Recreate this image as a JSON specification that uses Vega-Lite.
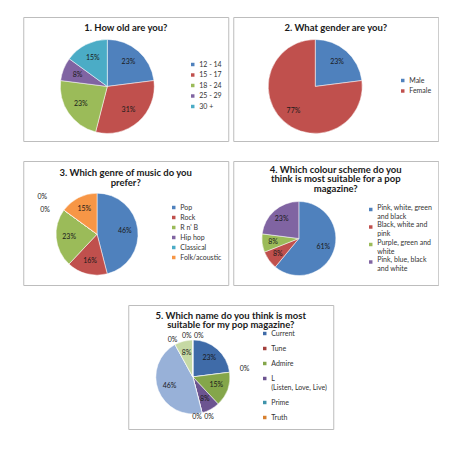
{
  "$schema": "https://vega.github.io/schema/vega-lite/v6.json",
  "background": "white",
  "padding": {"left": 22, "top": 16, "right": 0, "bottom": 0},
  "config": {
    "font": "Lato",
    "view": {"stroke": "#bdbdbd", "strokeWidth": 1},
    "title": {"fontSize": 9.5, "fontWeight": "bold", "color": "#1a1a1a", "baseline": "top", "frame": "group", "anchor": "middle", "lineHeight": 9.5},
    "legend": {"orient": "none", "symbolType": "square", "symbolSize": 12, "symbolStrokeWidth": 0, "labelFontSize": 7, "labelColor": "#333", "labelOffset": 3, "padding": 0, "title": null}
  },
  "spacing": 18,
  "center": true,
  "resolve": {"scale": {"color": "independent", "x": "independent", "y": "independent", "theta": "independent"}, "legend": {"color": "independent"}},
  "vconcat": [
    {
      "hconcat": [
        {
          "width": 205, "height": 124,
          "title": {"text": "1. How old are you?", "offset": -15},
          "data": {"values": [
            {"i": 1, "cat": "12 - 14", "pct": 0.23},
            {"i": 2, "cat": "15 - 17", "pct": 0.31},
            {"i": 3, "cat": "18 - 24", "pct": 0.23},
            {"i": 4, "cat": "25 - 29", "pct": 0.08},
            {"i": 5, "cat": "30 +", "pct": 0.15}
          ]},
          "encoding": {
            "theta": {"field": "pct", "type": "quantitative", "stack": true},
            "order": {"field": "i", "type": "quantitative"},
            "x": {"datum": 0.41, "type": "quantitative", "scale": {"domain": [0, 1]}, "axis": null},
            "y": {"datum": 0.44, "type": "quantitative", "scale": {"domain": [0, 1]}, "axis": null}
          },
          "layer": [
            {"mark": {"type": "arc", "outerRadius": 47, "stroke": "white", "strokeWidth": 0.5},
             "encoding": {"color": {"field": "cat", "type": "nominal", "sort": null,
               "scale": {"domain": ["12 - 14", "15 - 17", "18 - 24", "25 - 29", "30 +"], "range": ["#4F81BD", "#C0504D", "#9BBB59", "#8064A2", "#4BACC6"]},
               "legend": {"legendX": 166, "legendY": 44, "rowPadding": 2.5}}}},
            {"mark": {"type": "text", "radius": 32, "fontSize": 7, "color": "#1a1a1a", "clip": true},
             "encoding": {"detail": {"field": "cat"}, "text": {"field": "pct", "type": "quantitative", "format": ".0%"}}}
          ]
        },
        {
          "width": 205, "height": 124,
          "title": {"text": "2. What gender are you?", "offset": -15},
          "data": {"values": [
            {"i": 1, "cat": "Male", "pct": 0.23},
            {"i": 2, "cat": "Female", "pct": 0.77}
          ]},
          "encoding": {
            "theta": {"field": "pct", "type": "quantitative", "stack": true},
            "order": {"field": "i", "type": "quantitative"},
            "x": {"datum": 0.40, "type": "quantitative", "scale": {"domain": [0, 1]}, "axis": null},
            "y": {"datum": 0.44, "type": "quantitative", "scale": {"domain": [0, 1]}, "axis": null}
          },
          "layer": [
            {"mark": {"type": "arc", "outerRadius": 47, "stroke": "white", "strokeWidth": 0.5},
             "encoding": {"color": {"field": "cat", "type": "nominal", "sort": null,
               "scale": {"domain": ["Male", "Female"], "range": ["#4F81BD", "#C0504D"]},
               "legend": {"legendX": 166, "legendY": 60, "rowPadding": 2.5}}}},
            {"mark": {"type": "text", "radius": 33, "fontSize": 7, "color": "#1a1a1a", "clip": true},
             "encoding": {"detail": {"field": "cat"}, "text": {"field": "pct", "type": "quantitative", "format": ".0%"}}}
          ]
        }
      ],
      "spacing": 3,
      "resolve": {"scale": {"color": "independent", "x": "independent", "y": "independent", "theta": "independent"}, "legend": {"color": "independent"}}
    },
    {
      "hconcat": [
        {
          "width": 205, "height": 124,
          "title": {"text": ["3. Which genre of music do you", "prefer?"], "offset": -26},
          "data": {"values": [
            {"i": 1, "cat": "Pop", "pct": 0.46},
            {"i": 2, "cat": "Rock", "pct": 0.16},
            {"i": 3, "cat": "R n' B", "pct": 0.23},
            {"i": 4, "cat": "Hip hop", "pct": 0},
            {"i": 5, "cat": "Classical", "pct": 0},
            {"i": 6, "cat": "Folk/acoustic", "pct": 0.15}
          ]},
          "encoding": {
            "theta": {"field": "pct", "type": "quantitative", "stack": true},
            "order": {"field": "i", "type": "quantitative"},
            "x": {"datum": 0.36, "type": "quantitative", "scale": {"domain": [0, 1]}, "axis": null},
            "y": {"datum": 0.41, "type": "quantitative", "scale": {"domain": [0, 1]}, "axis": null}
          },
          "layer": [
            {"mark": {"type": "arc", "outerRadius": 41, "stroke": "white", "strokeWidth": 0.5},
             "encoding": {"color": {"field": "cat", "type": "nominal", "sort": null,
               "scale": {"domain": ["Pop", "Rock", "R n' B", "Hip hop", "Classical", "Folk/acoustic"], "range": ["#4F81BD", "#C0504D", "#9BBB59", "#8064A2", "#4BACC6", "#F79646"]},
               "legend": {"legendX": 147, "legendY": 43, "rowPadding": 2}}}},
            {"mark": {"type": "text", "radius": 28, "fontSize": 7, "color": "#1a1a1a", "clip": true},
             "encoding": {"detail": {"field": "cat"}, "text": {"field": "pct", "type": "quantitative", "format": ".0%"},
               "opacity": {"condition": {"test": "datum.pct > 0", "value": 1}, "value": 0}}},
            {"mark": {"type": "text", "radius": 54, "fontSize": 7, "color": "#1a1a1a", "dx": -11, "dy": -5, "clip": true},
             "encoding": {"detail": {"field": "cat"}, "text": {"field": "pct", "type": "quantitative", "format": ".0%"},
               "opacity": {"condition": {"test": "datum.i == 4", "value": 1}, "value": 0}}},
            {"mark": {"type": "text", "radius": 52, "fontSize": 7, "color": "#1a1a1a", "dx": -10, "dy": 6, "clip": true},
             "encoding": {"detail": {"field": "cat"}, "text": {"field": "pct", "type": "quantitative", "format": ".0%"},
               "opacity": {"condition": {"test": "datum.i == 5", "value": 1}, "value": 0}}}
          ]
        },
        {
          "width": 205, "height": 124,
          "title": {"text": ["4. Which colour scheme do you", "think is most suitable for a pop", "magazine?"], "offset": -32},
          "data": {"values": [
            {"i": 1, "cat": "Pink, white, green and black", "pct": 0.61},
            {"i": 2, "cat": "Black, white and pink", "pct": 0.08},
            {"i": 3, "cat": "Purple, green and white", "pct": 0.08},
            {"i": 4, "cat": "Pink, blue, black and white", "pct": 0.23}
          ]},
          "encoding": {
            "theta": {"field": "pct", "type": "quantitative", "stack": true},
            "order": {"field": "i", "type": "quantitative"},
            "x": {"datum": 0.32, "type": "quantitative", "scale": {"domain": [0, 1]}, "axis": null},
            "y": {"datum": 0.375, "type": "quantitative", "scale": {"domain": [0, 1]}, "axis": null}
          },
          "layer": [
            {"mark": {"type": "arc", "outerRadius": 37, "stroke": "white", "strokeWidth": 0.5},
             "encoding": {"color": {"field": "cat", "type": "nominal", "sort": null,
               "scale": {"domain": ["Pink, white, green and black", "Black, white and pink", "Purple, green and white", "Pink, blue, black and white"], "range": ["#4F81BD", "#C0504D", "#9BBB59", "#8064A2"]},
               "legend": {"legendX": 134, "legendY": 45, "rowPadding": 0.5, "labelBaseline": "alphabetic",
                 "labelExpr": "datum.label == 'Pink, white, green and black' ? ['Pink, white, green', 'and black'] : datum.label == 'Black, white and pink' ? ['Black, white and', 'pink'] : datum.label == 'Purple, green and white' ? ['Purple, green and', 'white'] : ['Pink, blue, black', 'and white']"}}}},
            {"mark": {"type": "text", "radius": 26, "fontSize": 7, "color": "#1a1a1a", "clip": true},
             "encoding": {"detail": {"field": "cat"}, "text": {"field": "pct", "type": "quantitative", "format": ".0%"}}}
          ]
        }
      ],
      "spacing": 3,
      "resolve": {"scale": {"color": "independent", "x": "independent", "y": "independent", "theta": "independent"}, "legend": {"color": "independent"}}
    },
    {
      "width": 205, "height": 124,
      "title": {"text": ["5. Which name do you think is most", "suitable for my pop magazine?"], "offset": -24.5},
      "data": {"values": [
        {"i": 1, "cat": "Current", "pct": 0.23},
        {"i": 2, "cat": "Tune", "pct": 0},
        {"i": 3, "cat": "Admire", "pct": 0.15},
        {"i": 4, "cat": "L (Listen, Love, Live)", "pct": 0.08},
        {"i": 5, "cat": "Prime", "pct": 0},
        {"i": 6, "cat": "Truth", "pct": 0},
        {"i": 7, "cat": "7", "pct": 0.46},
        {"i": 8, "cat": "8", "pct": 0},
        {"i": 9, "cat": "9", "pct": 0.08},
        {"i": 10, "cat": "10", "pct": 0},
        {"i": 11, "cat": "11", "pct": 0}
      ]},
      "encoding": {
        "theta": {"field": "pct", "type": "quantitative", "stack": true},
        "order": {"field": "i", "type": "quantitative"},
        "x": {"datum": 0.315, "type": "quantitative", "scale": {"domain": [0, 1]}, "axis": null},
        "y": {"datum": 0.42, "type": "quantitative", "scale": {"domain": [0, 1]}, "axis": null}
      },
      "layer": [
        {"mark": {"type": "arc", "outerRadius": 37, "stroke": "white", "strokeWidth": 0.5},
         "encoding": {"color": {"field": "cat", "type": "nominal", "sort": null,
           "scale": {"domain": ["Current", "Tune", "Admire", "L (Listen, Love, Live)", "Prime", "Truth", "7", "8", "9", "10", "11"],
                     "range": ["#3F6BA8", "#A33F3C", "#84A64A", "#6C5490", "#3F93AA", "#D7802F", "#98B1D8", "#D99694", "#C6D9A4", "#B3A2C7", "#93CDDD"]},
           "legend": {"legendX": 133, "legendY": 25, "rowPadding": 7,
             "values": ["Current", "Tune", "Admire", "L (Listen, Love, Live)", "Prime", "Truth"],
             "labelExpr": "datum.label == 'L (Listen, Love, Live)' ? ['L', '(Listen, Love, Live)'] : datum.label", "labelBaseline": "middle"}}}},
        {"mark": {"type": "text", "radius": 25, "fontSize": 7, "color": "#1a1a1a", "clip": true},
         "encoding": {"detail": {"field": "cat"}, "text": {"field": "pct", "type": "quantitative", "format": ".0%"},
           "opacity": {"condition": {"test": "datum.pct > 0", "value": 1}, "value": 0}}},
        {"mark": {"type": "text", "radius": 46, "fontSize": 7, "color": "#1a1a1a", "dx": 6, "dy": -2, "clip": true},
         "encoding": {"detail": {"field": "cat"}, "text": {"field": "pct", "type": "quantitative", "format": ".0%"},
           "opacity": {"condition": {"test": "datum.i == 2", "value": 1}, "value": 0}}},
        {"mark": {"type": "text", "radius": 42, "fontSize": 7, "color": "#1a1a1a", "clip": true},
         "encoding": {"detail": {"field": "cat"}, "text": {"field": "pct", "type": "quantitative", "format": ".0%"},
           "opacity": {"condition": {"test": "datum.i == 8", "value": 1}, "value": 0}}},
        {"mark": {"type": "text", "radius": 41, "fontSize": 7, "color": "#1a1a1a", "dx": -6, "clip": true},
         "encoding": {"detail": {"field": "cat"}, "text": {"field": "pct", "type": "quantitative", "format": ".0%"},
           "opacity": {"condition": {"test": "datum.i == 5 || datum.i == 10", "value": 1}, "value": 0}}},
        {"mark": {"type": "text", "radius": 41, "fontSize": 7, "color": "#1a1a1a", "dx": 6, "clip": true},
         "encoding": {"detail": {"field": "cat"}, "text": {"field": "pct", "type": "quantitative", "format": ".0%"},
           "opacity": {"condition": {"test": "datum.i == 6 || datum.i == 11", "value": 1}, "value": 0}}}
      ]
    }
  ]
}
